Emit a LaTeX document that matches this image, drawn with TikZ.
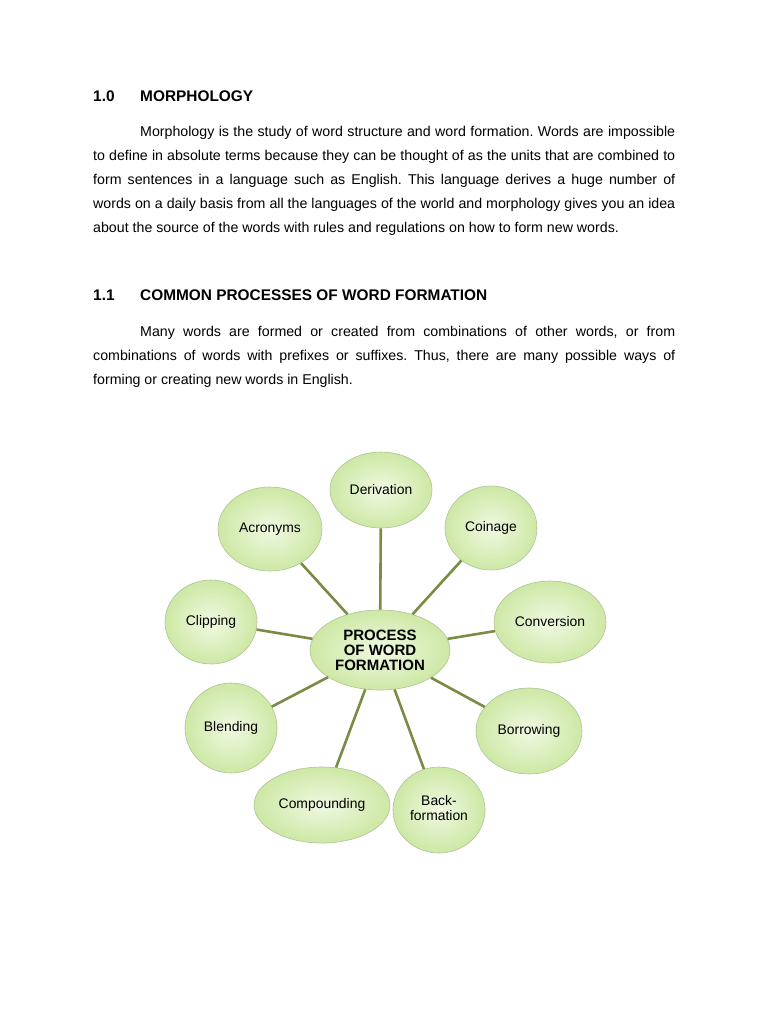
\documentclass[tikz,border=0pt]{standalone}
\usepackage{fontspec}
\setmainfont{Liberation Sans}
\usetikzlibrary{shapes.geometric}
\definecolor{linkgreen}{RGB}{122,140,68}
\definecolor{bubin}{RGB}{240,249,226}
\definecolor{bubout}{RGB}{205,232,165}
\definecolor{bubedge}{RGB}{175,195,150}
\frenchspacing
\begin{document}
\begin{tikzpicture}[x=1pt,y=-1pt,
  bubble/.style={ellipse, draw=bubedge, line width=0.6pt, inner sep=0pt,
    inner color=bubin, outer color=bubout,
    font=\fontsize{13.9}{13.5}\selectfont, align=center},
  link/.style={draw=linkgreen, line width=2.6pt},
  body/.style={anchor=base west, inner sep=0pt, font=\fontsize{14.2}{24}\selectfont},
  head/.style={anchor=base west, inner sep=0pt, font=\bfseries\fontsize{15.4}{18}\selectfont}]
\useasboundingbox[fill=white] (0,0) rectangle (768,1024);

% Section 1.0
\node[head] (h1n) at (93,101.5) {1.0};
\node[head] (h1t) at (140,101.5) {MORPHOLOGY};
\node[body] (p1a) at (140,137) {\makebox[535pt][s]{Morphology is the study of word structure and word formation. Words are impossible}};
\node[body] (p1b) at (93,161) {\makebox[582pt][s]{to define in absolute terms because they can be thought of as the units that are combined to}};
\node[body] (p1c) at (93,185) {\makebox[582pt][s]{form sentences in a language such as English. This language derives a huge number of}};
\node[body] (p1d) at (93,209) {\makebox[582pt][s]{words on a daily basis from all the languages of the world and morphology gives you an idea}};
\node[body] (p1e) at (93,233) {about the source of the words with rules and regulations on how to form new words.};

% Section 1.1
\node[head] (h2n) at (93,300.5) {1.1};
\node[head] (h2t) at (140,300.5) {COMMON PROCESSES OF WORD FORMATION};
\node[body] (p2a) at (140,336) {\makebox[535pt][s]{Many words are formed or created from combinations of other words, or from}};
\node[body] (p2b) at (93,360) {\makebox[582pt][s]{combinations of words with prefixes or suffixes. Thus, there are many possible ways of}};
\node[body] (p2c) at (93,384) {forming or creating new words in English.};

% Diagram
\node[bubble, minimum width=140pt, minimum height=80pt,
      font=\bfseries\fontsize{15}{15}\selectfont] (c) at (380,650) {PROCESS\\OF WORD\\FORMATION};
\node[bubble, minimum width=102pt, minimum height=76pt] (der) at (381,490) {Derivation};
\node[bubble, minimum width=104pt, minimum height=84pt] (acr) at (270,529) {Acronyms};
\node[bubble, minimum width=92pt,  minimum height=84pt] (coi) at (491,528) {Coinage};
\node[bubble, minimum width=92pt,  minimum height=84pt] (cli) at (211,622) {Clipping};
\node[bubble, minimum width=112pt, minimum height=82pt] (con) at (550,622) {Conversion};
\node[bubble, minimum width=92pt,  minimum height=90pt] (ble) at (231,728) {Blending};
\node[bubble, minimum width=106pt, minimum height=86pt] (bor) at (529,731) {Borrowing};
\node[bubble, minimum width=136pt, minimum height=76pt] (com) at (322,805) {Compounding};
\node[bubble, minimum width=92pt,  minimum height=86pt] (bac) at (439,810)
  {\raisebox{7pt}{\begin{tabular}{@{}c@{}}Back-\\formation\end{tabular}}};

\foreach \n in {der,acr,coi,cli,con,ble,bor,com,bac}
  \draw[link] (c) -- (\n);
\end{tikzpicture}
\end{document}
